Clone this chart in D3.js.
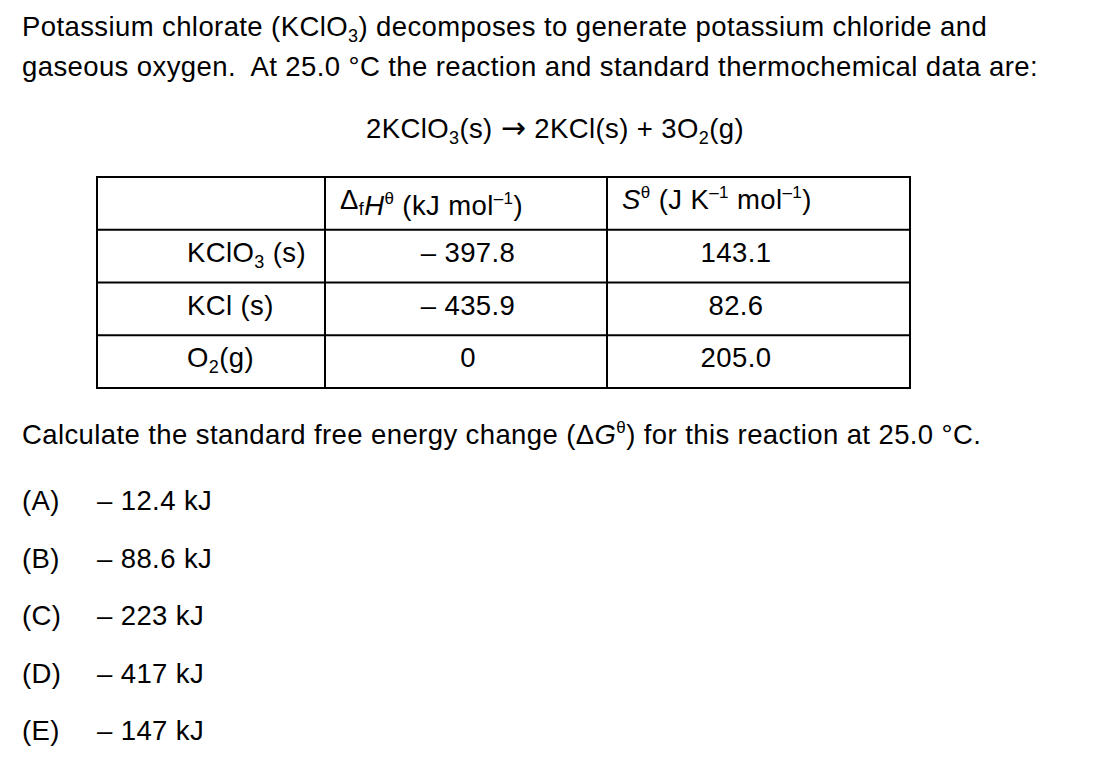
<!DOCTYPE html>
<html>
<head>
<meta charset="utf-8">
<script src="https://cdn.jsdelivr.net/npm/d3@7"></script>
<style>
  body { margin: 0; background: #fff; }
  text { font-family: "Liberation Sans", Arial, sans-serif; font-size: 27.5px; letter-spacing: 0.4px; fill: #000; white-space: pre; }
</style>
</head>
<body>
<script>
// table data
var species = [["KClO", "3", " (s)"], ["KCl (s)"], ["O", "2", "(g)"]];
var enthalpy = ["\u2013 397.8", "\u2013 435.9", "0"];
var entropy = ["143.1", "82.6", "205.0"];
var optionLetters = ["(A)", "(B)", "(C)", "(D)", "(E)"];
var optionValues = ["\u2013 12.4 kJ", "\u2013 88.6 kJ", "\u2013 223 kJ", "\u2013 417 kJ", "\u2013 147 kJ"];

var svg = d3.select("body").append("svg").attr("width", 1108).attr("height", 762);

// helper: parts -> tspans, every [text, "sub"/"sup"/"i"/"arrow", rest]
function rich(sel, parts) {
  parts.forEach(function(p) {
    var t = sel.append("tspan").text(p[0]);
    if (p[1] == "sub") t.attr("font-size", 18).attr("dy", 6);
    if (p[1] == "sup") t.attr("font-size", 17).attr("dy", -11);
    if (p[1] == "i") t.attr("font-style", "italic");
    if (p[1] == "arrow") t.attr("font-family", "DejaVu Sans").attr("font-size", 30);
    if (p[2]) sel.append("tspan").attr("dy", -(+t.attr("dy") || 0)).text(p[2]);
  });
  return sel;
}

rich(svg.append("text").attr("x", 22).attr("y", 36),
  [["Potassium chlorate (KClO"], ["3", "sub", ") decomposes to generate potassium chloride and"]]);
svg.append("text").attr("x", 22).attr("y", 76)
  .text("gaseous oxygen.  At 25.0 \u00b0C the reaction and standard thermochemical data are:");
rich(svg.append("text").attr("x", 555).attr("y", 138).attr("text-anchor", "middle"),
  [["2KClO"], ["3", "sub", "(s) "], ["\u2192", "arrow", " 2KCl(s) + 3O"], ["2", "sub", "(g)"]]);

// table layout
var cols = [97, 325, 607, 910];
var y = d3.scaleBand().domain(d3.range(species.length + 1)).range([177, 388]);
var g = svg.append("g").attr("stroke", "#000").attr("stroke-width", 2);
g.append("rect").attr("x", cols[0]).attr("y", 177).attr("width", cols[3] - cols[0]).attr("height", 211).attr("fill", "none");
cols.slice(1, 3).forEach(function(c) {
  g.append("line").attr("x1", c).attr("x2", c).attr("y1", 177).attr("y2", 388);
});
d3.range(1, species.length + 1).forEach(function(i) {
  g.append("line").attr("x1", cols[0]).attr("x2", cols[3]).attr("y1", y(i)).attr("y2", y(i));
});

var base = function(i) { return y(i) + 32; };
// header
rich(svg.append("text").attr("x", 340).attr("y", base(0)),
  [["\u0394"], ["f", "sub", ""], ["H", "i"], ["\u03b8", "sup", " (kJ mol"], ["\u20131", "sup", ")"]]);
rich(svg.append("text").attr("x", 622).attr("y", base(0)),
  [["S", "i"], ["\u03b8", "sup", " (J K"], ["\u20131", "sup", " mol"], ["\u20131", "sup", ")"]]);

species.forEach(function(s, i) {
  var t = svg.append("text").attr("x", 187).attr("y", base(i + 1));
  if (s.length == 1) t.text(s[0]);
  else rich(t, [[s[0]], [s[1], "sub", s[2]]]);
  svg.append("text").attr("x", 468).attr("y", base(i + 1)).attr("text-anchor", "middle").text(enthalpy[i]);
  svg.append("text").attr("x", 736).attr("y", base(i + 1)).attr("text-anchor", "middle").text(entropy[i]);
});

rich(svg.append("text").attr("x", 22).attr("y", 444),
  [["Calculate the standard free energy change (\u0394"], ["G", "i"], ["\u03b8", "sup", ") for this reaction at 25.0 \u00b0C."]]);

var oy = d3.scalePoint().domain(optionLetters).range([510, 740]);
optionLetters.forEach(function(l, i) {
  svg.append("text").attr("x", 22).attr("y", oy(l)).text(l);
  svg.append("text").attr("x", 97).attr("y", oy(l)).text(optionValues[i]);
});
</script>
</body>
</html>
